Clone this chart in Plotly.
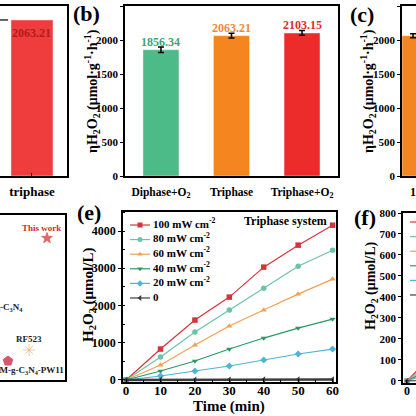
import plotly.graph_objects as go

# ---------------- data ----------------
a_cats = ["triphase"]
a_vals = [2063.21]

b_cats = ["Diphase+O<sub>2</sub>", "Triphase", "Triphase+O<sub>2</sub>"]
b_vals = [1856.34, 2063.21, 2103.15]
b_err = [40, 35, 35]

c_cats = ["1"]
c_vals = [2063.21]
c_err = [30]

d_names = ["This work", "RF523", "POM-g-C<sub>3</sub>N<sub>4</sub>-PW11"]
d_x = [47, 29, 8]
d_y = [2063.21, 436, 276]
d_other_label = "mpg-C<sub>3</sub>N<sub>4</sub>"
d_other_xy = [25, 1060]

time_min = [0, 10, 20, 30, 40, 50, 60]
power_labels = ["100 mW cm<sup>-2</sup>", "80 mW cm<sup>-2</sup>", "60 mW cm<sup>-2</sup>",
                "40 mW cm<sup>-2</sup>", "20 mW cm<sup>-2</sup>", "0"]
e_100 = [0, 831, 1608, 2225, 3030, 3620, 4155]
e_80 = [0, 617, 1287, 1877, 2466, 3056, 3485]
e_60 = [0, 402, 938, 1448, 1877, 2306, 2708]
e_40 = [0, 241, 509, 831, 1126, 1394, 1635]
e_20 = [0, 107, 241, 375, 536, 697, 831]
e_0 = [0, 5, 8, 10, 12, 14, 16]

f_100 = [0, 170, 300, 420, 530, 630, 730]
f_80 = [0, 135, 250, 350, 440, 520, 600]
f_60 = [0, 110, 200, 290, 370, 440, 510]
f_40 = [0, 80, 150, 215, 275, 330, 380]
f_20 = [0, 55, 100, 145, 190, 230, 270]
f_0 = [0, 4, 6, 8, 10, 12, 14]

# ---------------- styles ----------------
FONT = "Liberation Serif"
series_colors = ["#d8333b", "#6cc4a6", "#f3a050", "#2a9966", "#4fb5d8", "#3c3c3c"]
series_symbols = ["square", "circle", "triangle-up", "triangle-down", "diamond", "triangle-left"]
b_colors = ["#4dbb87", "#f5861f", "#ec2b2b"]
b_text_colors = ["#3aa676", "#ee8a35", "#e02a2a"]

S = 416.0
def xd(a, b):
    return [max(0, a / S), min(1, b / S)]
def yd(top, bottom):
    return [1 - bottom / S, 1 - top / S]

def bf(size, color="black"):
    return dict(family=FONT, size=size, color=color, weight="bold")

base = dict(showgrid=False, zeroline=False, linecolor="black", linewidth=1.5,
            tickcolor="black", tickwidth=1.2)

fig = go.Figure()

# (a)
fig.add_bar(x=a_cats, y=a_vals, width=0.6, marker_color="#ef3c3c", xaxis="x", yaxis="y")
# (b)
fig.add_bar(x=b_cats, y=b_vals, width=0.51, marker_color=b_colors, xaxis="x2", yaxis="y2",
            error_y=dict(type="data", array=b_err, color="black", thickness=1.5, width=3))
# (c)
fig.add_bar(x=c_cats, y=c_vals, width=0.55, marker_color="#f5861f", xaxis="x3", yaxis="y3",
            error_y=dict(type="data", array=c_err, color="black", thickness=1.5, width=3))
# (d)
d_symbols = ["star", "asterisk-open", "pentagon"]
d_colors = ["#d8262e", "#e8b27a", "#c8102e"]
d_sizes = [8, 10, 10]
fig.add_scatter(x=d_x, y=d_y, mode="markers", xaxis="x4", yaxis="y4",
                marker=dict(symbol=d_symbols, color=d_colors, size=d_sizes,
                            line=dict(color=d_colors, width=1)))

# (e)
e_series = [e_100, e_80, e_60, e_40, e_20, e_0]
for vals, col, sym in zip(e_series, series_colors, series_symbols):
    fig.add_scatter(x=time_min, y=vals, mode="lines+markers", xaxis="x5", yaxis="y5",
                    line=dict(color=col, width=1.2 if col != "#3c3c3c" else 2.5),
                    marker=dict(symbol=sym, size=5.5, color=col), cliponaxis=False)
# (f)
f_series = [f_100, f_80, f_60, f_40, f_20, f_0]
for vals, col, sym in zip(f_series, series_colors, series_symbols):
    fig.add_scatter(x=time_min, y=vals, mode="lines+markers", xaxis="x6", yaxis="y6",
                    line=dict(color=col, width=1.2),
                    marker=dict(symbol=sym, size=5, color=col))

# custom legends (e) and (f)
rows = list(range(len(power_labels)))
for r, col, sym in zip(rows, series_colors, series_symbols):
    fig.add_scatter(x=[0, 1], y=[r, r], mode="lines", xaxis="x7", yaxis="y7",
                    line=dict(color=col, width=1.2), cliponaxis=False)
    fig.add_scatter(x=[0.5], y=[r], mode="markers", xaxis="x7", yaxis="y7",
                    marker=dict(symbol=sym, size=5, color=col), cliponaxis=False)
    fig.add_scatter(x=[0, 1], y=[r, r], mode="lines", xaxis="x8", yaxis="y8",
                    line=dict(color=col, width=1.2))
fig.add_scatter(x=[1.15] * len(rows), y=rows, mode="text", text=power_labels,
                textposition="middle right", textfont=bf(11), xaxis="x7", yaxis="y7",
                cliponaxis=False)

fig.update_traces(showlegend=False, hoverinfo="skip")

lay = dict(
    width=416, height=416, margin=dict(l=0, r=0, t=0, b=0, autoexpand=False),
    paper_bgcolor="white", plot_bgcolor="rgba(0,0,0,0)", showlegend=False,
    font=dict(family=FONT, color="black", weight="bold"),
    # (a)
    xaxis=dict(base, domain=xd(0, 67), range=[-0.457, 0.5], type="category", showline=True,
               mirror=True, ticks="inside", ticklen=3, tickfont=bf(13), ticklabelstandoff=3),
    yaxis=dict(base, domain=yd(6, 176), range=[0, 2248], side="right", showline=True,
               showticklabels=False, ticks=""),
    # (b)
    xaxis2=dict(base, domain=xd(125, 338), range=[-0.51, 2.51], type="category", showline=True,
                mirror=True, ticks="", tickfont=bf(11.5), ticklabelstandoff=4),
    yaxis2=dict(base, domain=yd(6, 176), range=[0, 2500], dtick=500, showline=True, mirror=True,
                ticks="outside", ticklen=3, tickfont=bf(11), anchor="x2"),
    # (c)
    xaxis3=dict(base, domain=xd(402, 416), range=[-0.275, 0.075], type="category", showline=True,
                mirror=True, ticks="", tickfont=bf(12), ticklabelstandoff=4, anchor="y3"),
    yaxis3=dict(base, domain=yd(6, 176), range=[0, 2500], dtick=500, showline=True,
                ticks="outside", ticklen=3, tickfont=bf(11), anchor="x3"),
    # (d)
    xaxis4=dict(base, domain=xd(0, 65), range=[0, 65], showline=True, mirror=True,
                showticklabels=False, ticks="", anchor="y4"),
    yaxis4=dict(base, domain=yd(215, 380), range=[0, 2400], side="right", showline=True,
                showticklabels=False, ticks="", anchor="x4"),
    # (e)
    xaxis5=dict(base, domain=xd(123, 336), range=[-0.9, 61], tick0=0, dtick=10, showline=True,
                mirror=True, ticks="inside", ticklen=3, tickfont=bf(13), anchor="y5",
                ticklabelstandoff=-4,
                minor=dict(dtick=5, ticks="inside", ticklen=2, tickcolor="black")),
    yaxis5=dict(base, domain=yd(212, 382), range=[-54, 4510], dtick=1000, showline=True,
                mirror=True, ticks="outside", ticklen=3, tickfont=bf(12), anchor="x5",
                minor=dict(dtick=500, ticks="inside", ticklen=2, tickcolor="black")),
    # (f)
    xaxis6=dict(base, domain=xd(403, 416), range=[-1.16, 2.62], tick0=0, dtick=10, showline=True,
                mirror=True, ticks="inside", ticklen=3, tickfont=bf(12), anchor="y6",
                ticklabelstandoff=-4),
    yaxis6=dict(base, domain=yd(213, 383), range=[-10, 800], dtick=100, showline=True,
                ticks="outside", ticklen=3, tickfont=bf(11), anchor="x6"),
    # legend axes
    xaxis7=dict(domain=xd(130, 260), range=[0, 6.5], visible=False, anchor="y7"),
    yaxis7=dict(domain=yd(218, 305), range=[5.48, -0.48], visible=False, anchor="x7"),
    xaxis8=dict(domain=xd(410, 416), range=[0, 0.3], visible=False, anchor="y8"),
    yaxis8=dict(domain=yd(215, 302), range=[5.48, -0.48], visible=False, anchor="x8"),
)
fig.update_layout(**lay)

ann = []
# (a) value label inside bar
ann.append(dict(x=a_cats[0], y=a_vals[0], xref="x", yref="y", text=f"{a_vals[0]:.2f}",
                showarrow=False, xanchor="center", yanchor="middle", yshift=-13,
                font=bf(12, "#b01c1c")))
# (b) value labels
for cat, v, col in zip(b_cats, b_vals, b_text_colors):
    ann.append(dict(x=cat, y=v, xref="x2", yref="y2", text=f"{v:.2f}", showarrow=False,
                    xanchor="center", yanchor="middle", yshift=8, font=bf(12, col)))
# (d) labels
ann.append(dict(x=d_x[0] - 6, y=d_y[0], xref="x4", yref="y4", text=d_names[0], showarrow=False,
                xanchor="center", yanchor="middle", yshift=10, font=bf(9, "#d8262e")))
ann.append(dict(x=d_x[1], y=d_y[1], xref="x4", yref="y4", text=d_names[1], showarrow=False,
                xanchor="center", yanchor="middle", yshift=11, font=bf(9, "#222222")))
ann.append(dict(x=64, y=d_y[2], xref="x4", yref="y4", text=d_names[2], showarrow=False,
                xanchor="right", yanchor="middle", yshift=-9, xshift=1.5,
                font=bf(9, "#222222")))
ann.append(dict(x=d_other_xy[0], y=d_other_xy[1], xref="x4", yref="y4", text=d_other_label,
                showarrow=False, xanchor="right", yanchor="middle", font=bf(9, "#222222")))
# (e) label
ann.append(dict(x=285 / S, y=1 - 221 / S, xref="paper", yref="paper", text="Triphase system",
                showarrow=False, xanchor="center", yanchor="middle", font=bf(12)))
# panel letters
for t, px, py in [("(b)", 86, 14), ("(c)", 362, 15), ("(e)", 89, 212), ("(f)", 365, 217)]:
    ann.append(dict(x=px / S, y=1 - py / S, xref="paper", yref="paper", text=t,
                    xanchor="center", yanchor="middle",
                    showarrow=False, font=dict(family=FONT, size=22, color="black")))
# axis titles
eta = "ηH<sub>2</sub>O<sub>2</sub> (μmol·g<sup>-1</sup>·h<sup>-1</sup>)"
h2o2 = "H<sub>2</sub>O<sub>2</sub> (μmol/L)"
for t, px, py, sz in [(eta, 92, 91, 14), (eta, 368, 91, 14), (h2o2, 89, 295, 15),
                      (h2o2, 371, 286, 14)]:
    ann.append(dict(x=px / S, y=1 - py / S, xref="paper", yref="paper", text=t, textangle=-90,
                    xanchor="center", yanchor="middle", showarrow=False, font=bf(sz)))
ann.append(dict(x=229 / S, y=1 - 406 / S, xref="paper", yref="paper", text="Time (min)",
                xanchor="center", yanchor="middle", showarrow=False, font=bf(15)))
fig.update_layout(annotations=ann)

# dashed reference line in (a) at the triphase level
fig.add_shape(type="line", xref="x domain", yref="y", x0=0, x1=0.12, y0=a_vals[0], y1=a_vals[0],
              line=dict(color="black", width=1.2, dash="dash"))

fig.write_html("out.html")
